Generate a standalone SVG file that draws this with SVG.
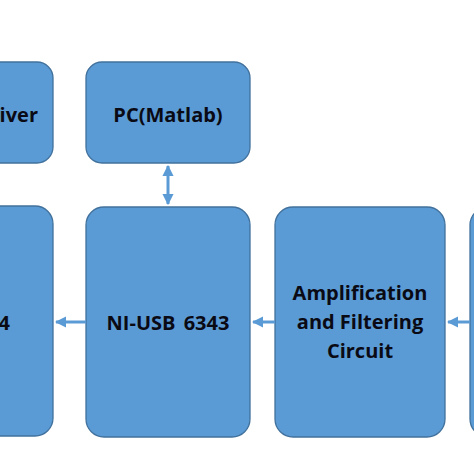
<svg xmlns="http://www.w3.org/2000/svg" width="474" height="474" viewBox="0 0 474 474">
<defs>
<style>
.box{fill:#5B9BD5;stroke:#41719C;stroke-width:1.3}
.t{font-family:"Open Sans","Liberation Sans",sans-serif;font-weight:bold;font-size:20px;fill:#0a0a14;text-anchor:middle}
.c{stroke:#5B9BD5;stroke-width:3;fill:none}
</style>
<marker id="ah" viewBox="0 0 10 10" refX="9" refY="5" markerWidth="3.8" markerHeight="3.8" orient="auto-start-reverse">
<path d="M0,0L10,5L0,10z" fill="#5B9BD5"/>
</marker>
</defs>
<rect width="474" height="474" fill="#fff"/>
<g id="driver">
<rect class="box" x="-40" y="62" width="93" height="101" rx="16"/>
<text class="t" x="38" y="122" style="text-anchor:end">iver</text>
</g>
<g id="pc">
<rect class="box" x="86" y="62" width="164" height="101" rx="16"/>
<text class="t" x="168" y="122">PC(Matlab)</text>
</g>
<g id="left">
<rect class="box" x="-40" y="206" width="93" height="230" rx="18"/>
<text class="t" x="10" y="330" style="text-anchor:end">4</text>
</g>
<g id="niusb">
<rect class="box" x="86" y="207" width="164" height="230" rx="18"/>
<text class="t" x="168" y="330" style="word-spacing:3px">NI-USB 6343</text>
</g>
<g id="amp">
<rect class="box" x="275" y="207" width="170" height="230" rx="18"/>
<text class="t" x="360" y="300">Amplification</text>
<text class="t" x="360" y="329">and Filtering</text>
<text class="t" x="360" y="358">Circuit</text>
</g>
<g id="right">
<rect class="box" x="470" y="207" width="60" height="230" rx="18"/>
</g>
<g id="connectors">
<line class="c" x1="168" y1="166" x2="168" y2="204" marker-start="url(#ah)" marker-end="url(#ah)"/>
<line class="c" x1="86" y1="322" x2="56" y2="322" marker-end="url(#ah)"/>
<line class="c" x1="275" y1="322" x2="253" y2="322" marker-end="url(#ah)"/>
<line class="c" x1="470" y1="322" x2="448" y2="322" marker-end="url(#ah)"/>
</g>
</svg>
